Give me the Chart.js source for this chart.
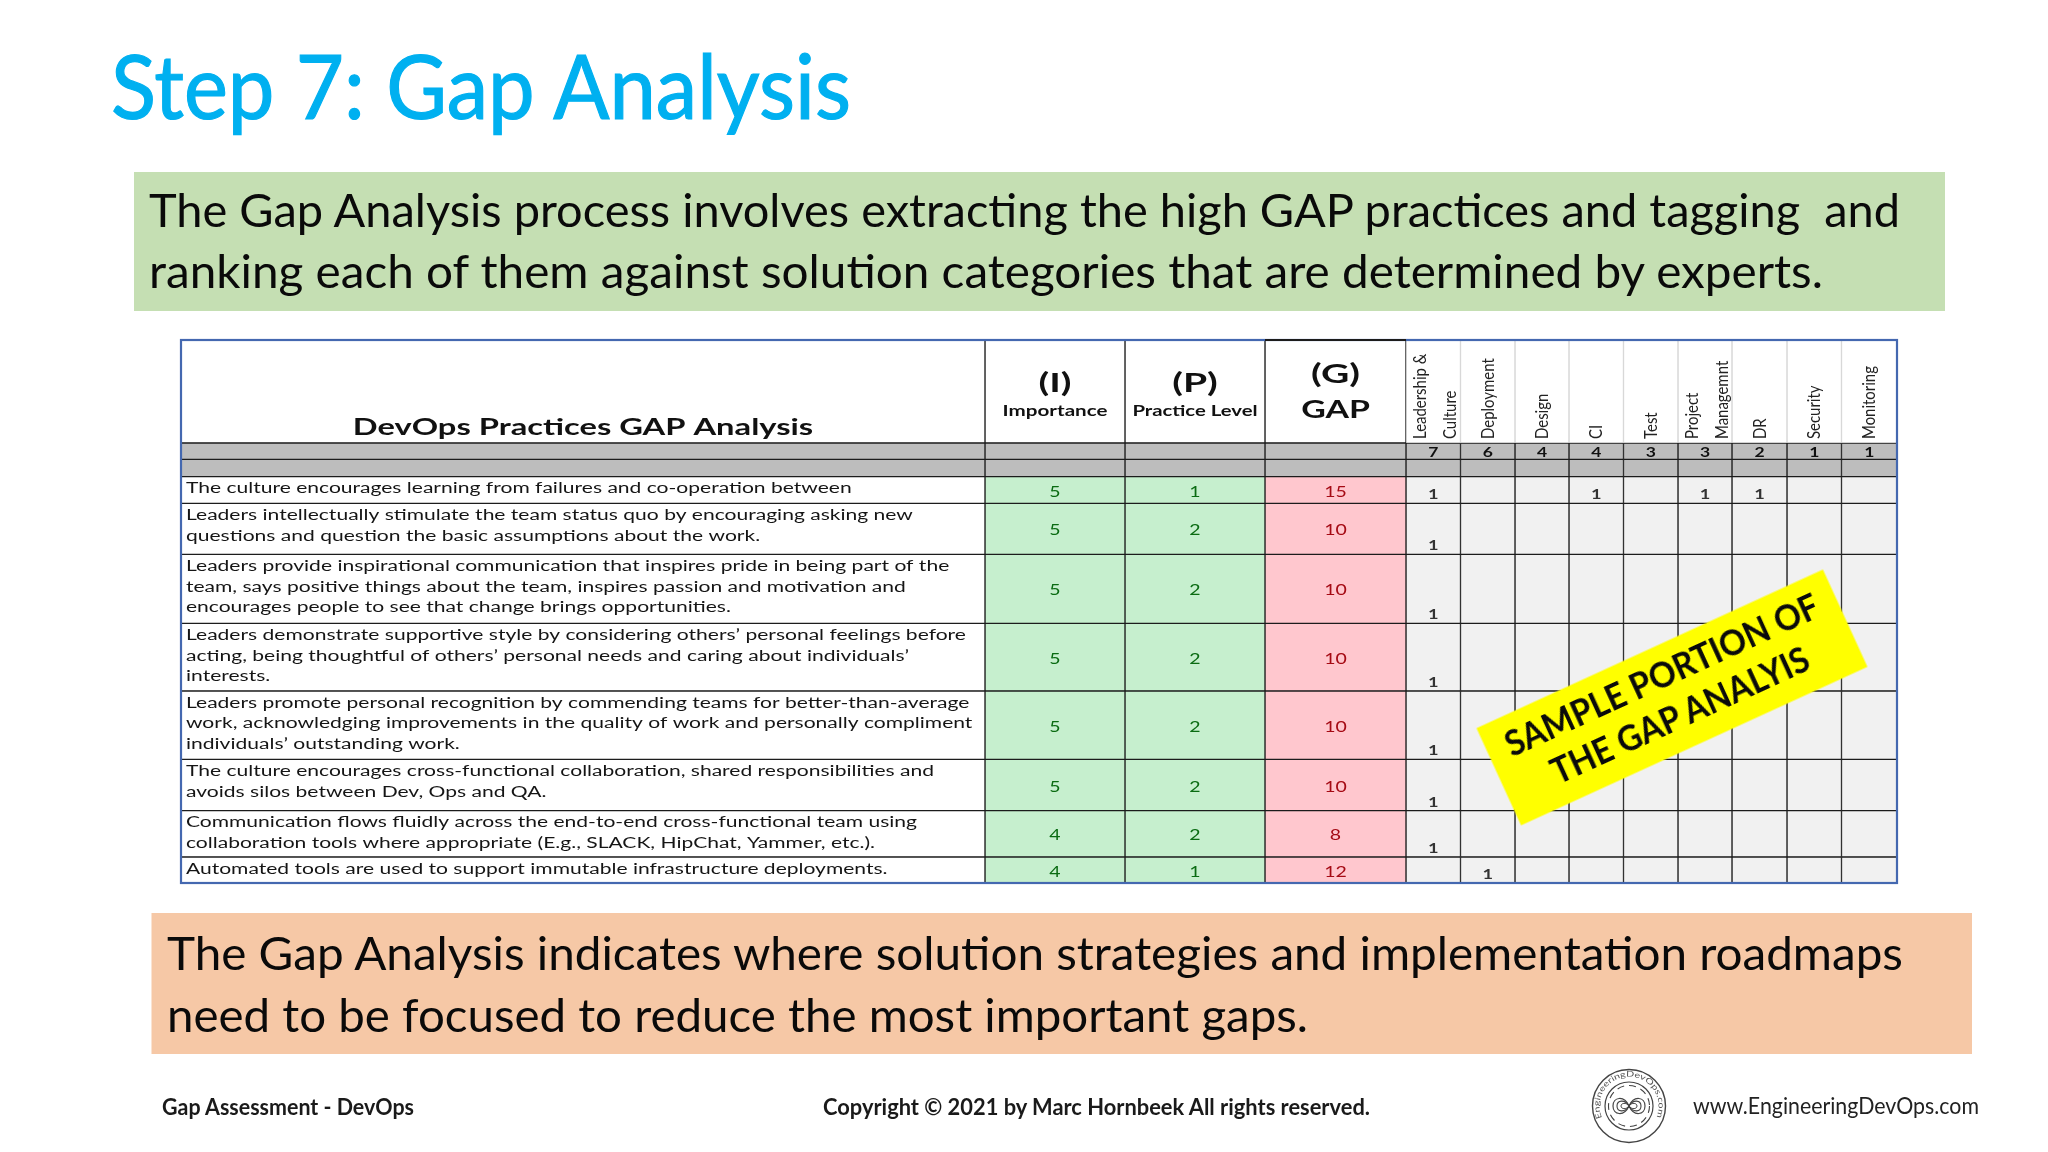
<!DOCTYPE html>
<html>
<head>
<meta charset="utf-8">
<title>Step 7: Gap Analysis</title>
<script src="https://cdn.jsdelivr.net/npm/chart.js@4/dist/chart.umd.min.js"></script>
<style>
    html, body { margin: 0; padding: 0; background: #fff; overflow: hidden; }
    #slide { position: relative; width: 2048px; height: 1152px; }
    #gap_table { position: absolute; left: 176px; top: 335px; }
    #overlay { position: absolute; left: 0; top: 0; font-family: Lato, sans-serif; }
</style>
</head>
<body>
<div id="slide">
    <canvas id="gap_table" width="1726" height="553"></canvas>

    <svg id="overlay" width="2048" height="1152" xmlns="http://www.w3.org/2000/svg">
        <text x="111" y="119" font-size="89" fill="#00B0F0" stroke="#00B0F0" stroke-width="1.2" textLength="740" lengthAdjust="spacingAndGlyphs">Step 7: Gap Analysis</text>

        <rect x="134" y="172" width="1811" height="139" fill="#C5DFB3"/>
        <text x="149" y="227" font-size="46" fill="#0a0a0a" xml:space="preserve" textLength="1751" lengthAdjust="spacingAndGlyphs">The Gap Analysis process involves extracting the high GAP practices and tagging  and</text>
        <text x="149" y="288" font-size="46" fill="#0a0a0a" textLength="1674" lengthAdjust="spacingAndGlyphs">ranking each of them against solution categories that are determined by experts.</text>

        <rect x="151.5" y="913" width="1820.5" height="141" fill="#F6C8A6"/>
        <text x="167" y="970" font-size="46" fill="#0a0a0a" textLength="1736" lengthAdjust="spacingAndGlyphs">The Gap Analysis indicates where solution strategies and implementation roadmaps</text>
        <text x="167" y="1032" font-size="46" fill="#0a0a0a" textLength="1141" lengthAdjust="spacingAndGlyphs">need to be focused to reduce the most important gaps.</text>

        <g transform="translate(1672,697.5) rotate(-24.6)">
            <rect x="-190.5" y="-53.5" width="381" height="107" fill="#FFFF00"/>
            <text x="0" y="-12" font-size="36" font-weight="700" fill="#0a0a0a" text-anchor="middle" textLength="341" lengthAdjust="spacingAndGlyphs">SAMPLE PORTION OF</text>
            <text x="0" y="32" font-size="36" font-weight="700" fill="#0a0a0a" text-anchor="middle" textLength="280" lengthAdjust="spacingAndGlyphs">THE GAP ANALYIS</text>
        </g>

        <text x="162" y="1115" font-size="22" font-weight="700" fill="#1a1a1a" textLength="252" lengthAdjust="spacingAndGlyphs">Gap Assessment - DevOps</text>
        <text x="823" y="1115" font-size="22" font-weight="700" fill="#1a1a1a" textLength="547" lengthAdjust="spacingAndGlyphs">Copyright © 2021 by Marc Hornbeek All rights reserved.</text>
        <text x="1693" y="1114" font-size="23" fill="#222" textLength="286" lengthAdjust="spacingAndGlyphs">www.EngineeringDevOps.com</text>

        <!-- logo -->
        <g transform="translate(1629,1106)" fill="none" stroke="#444">
            <circle r="36.5" stroke-width="1.4"/>
            <circle r="24" stroke-width="1.2"/>
            <circle r="20.5" stroke-width="1.1" stroke-dasharray="7 5"/>
            <path d="M0,0 C5,-11 16,-9 16,0 C16,9 5,11 0,0 C-5,-11 -16,-9 -16,0 C-16,9 -5,11 0,0 Z" stroke-width="1.2"/>
            <path d="M0,0 C4,-7 12,-6 12,0 C12,6 4,7 0,0 C-4,-7 -12,-6 -12,0 C-12,6 -4,7 0,0 Z" stroke-width="1.1"/>
            <path d="M0,0 C3,-4 8,-3 8,0 C8,3 3,4 0,0 C-3,-4 -8,-3 -8,0 C-8,3 -3,4 0,0 Z" stroke-width="1"/>
            <path id="logo_arc" d="M-27,12 A29.5,29.5 0 1 1 27,12" stroke="none"/>
            <text font-size="8" fill="#555" stroke="none"><textPath href="#logo_arc" textLength="116" lengthAdjust="spacingAndGlyphs">EngineeringDevOps.com</textPath></text>
        </g>
    </svg>
</div>

<script>
// Table content
const practices = [
    'The culture encourages learning from failures and co-operation between',
    'Leaders intellectually stimulate the team status quo by encouraging asking new\nquestions and question the basic assumptions about the work.',
    'Leaders provide inspirational communication that inspires pride in being part of the\nteam, says positive things about the team, inspires passion and motivation and\nencourages people to see that change brings opportunities.',
    'Leaders demonstrate supportive style by considering others\u2019 personal feelings before\nacting, being thoughtful of others\u2019 personal needs and caring about individuals\u2019\ninterests.',
    'Leaders promote personal recognition by commending teams for better-than-average\nwork, acknowledging improvements in the quality of work and personally compliment\nindividuals\u2019 outstanding work.',
    'The culture encourages cross-functional collaboration, shared responsibilities and\navoids silos between Dev, Ops and QA.',
    'Communication flows fluidly across the end-to-end cross-functional team using\ncollaboration tools where appropriate (E.g., SLACK, HipChat, Yammer, etc.).',
    'Automated tools are used to support immutable infrastructure deployments.'
];
const importance = [5, 5, 5, 5, 5, 5, 4, 4];
const practice_level = [1, 2, 2, 2, 2, 2, 2, 1];
const gap = [15, 10, 10, 10, 10, 10, 8, 12];

const solution_names = ['Leadership &\nCulture', 'Deployment', 'Design', 'CI', 'Test', 'Project\nManagemnt', 'DR', 'Security', 'Monitoring'];
const solution_totals = [7, 6, 4, 4, 3, 3, 2, 1, 1];
const leadership_hits = [1, 1, 1, 1, 1, 1, 1, null];
const deployment_hits = [null, null, null, null, null, null, null, 1];
const design_hits = [null, null, null, null, null, null, null, null];
const ci_hits = [1, null, null, null, null, null, null, null];
const test_hits = [null, null, null, null, null, null, null, null];
const project_hits = [1, null, null, null, null, null, null, null];
const dr_hits = [1, null, null, null, null, null, null, null];
const security_hits = [null, null, null, null, null, null, null, null];
const monitoring_hits = [null, null, null, null, null, null, null, null];
const solution_hits = [leadership_hits, deployment_hits, design_hits, ci_hits, test_hits, project_hits, dr_hits, security_hits, monitoring_hits];

// Layout of the grid, in page pixels
const column_edges = [181, 985, 1125, 1265, 1406, 1460.5, 1515, 1569, 1623.5, 1678, 1732, 1787, 1841.5, 1897];
const row_edges = [340, 443, 459.3, 476.7, 503.3, 554.3, 623.3, 691, 759.3, 810.7, 857, 883];

const colors = {
    line: '#1c1c1c',
    header_line: '#d4d4d4',
    band: '#BDBDBD',
    white: '#ffffff',
    green: '#C6EFCE',
    green_text: '#0A6B12',
    pink: '#FFC7CE',
    pink_text: '#A50A14',
    solution: '#F1F1F1',
    frame: '#4468B0'
};

const TEXT_FONT = 'Lato, sans-serif';
const BODY_STRETCH = 1.357;

/**
 * One floating bar per row, so the whole column comes from the chart's scales
 */
function build_column(col, body_color, header_line) {
    const left = column_edges[col];
    const right = column_edges[col + 1];
    const points = [];
    const fills = [];
    const lines = [];
    for (let r = 0; r < row_edges.length - 1; r++) {
        points.push({ x: (left + right) / 2, y: [row_edges[r], row_edges[r + 1]] });
        fills.push(r === 0 ? colors.white : r < 3 ? colors.band : body_color);
        lines.push(r === 0 ? header_line : colors.line);
    }
    return {
        data: points,
        backgroundColor: fills,
        borderColor: lines,
        borderWidth: 1,
        borderSkipped: false,
        barThickness: right - left,
        grouped: false
    };
}

function draw_text(ctx, text, x, y, font, color, align, stretch) {
    ctx.save();
    ctx.font = font;
    ctx.fillStyle = color;
    ctx.textAlign = align || 'left';
    ctx.textBaseline = 'alphabetic';
    ctx.translate(x, y);
    ctx.scale(stretch || 1, 1);
    ctx.fillText(text, 0, 0);
    ctx.restore();
}

/**
 * Writes the cell contents, placed from the bar elements
 */
const cell_text_plugin = {
    id: 'cell_text',
    afterDatasetsDraw(chart) {
        const ctx = chart.ctx;
        const y_at = value => chart.scales.y.getPixelForValue(value);
        const cell = (col, row) => chart.getDatasetMeta(col).data[row];
        const middle = el => (el.y + el.base) / 2;
        const bottom = el => Math.max(el.y, el.base);
        const header_font = size => `700 ${size}px ${TEXT_FONT}`;

        // header of the three score columns
        draw_text(ctx, 'DevOps Practices GAP Analysis', cell(0, 0).x, y_at(435), header_font(22), '#111', 'center', 1.485);
        const score_x = [cell(1, 0).x, cell(2, 0).x, cell(3, 0).x];
        draw_text(ctx, '(I)', score_x[0], y_at(392), header_font(26), '#111', 'center', 1.5);
        draw_text(ctx, 'Importance', score_x[0], y_at(416), header_font(14.5), '#111', 'center', 1.42);
        draw_text(ctx, '(P)', score_x[1], y_at(392), header_font(26), '#111', 'center', 1.5);
        draw_text(ctx, 'Practice Level', score_x[1], y_at(416), header_font(14.5), '#111', 'center', 1.4);
        draw_text(ctx, '(G)', score_x[2], y_at(383), header_font(26), '#111', 'center', 1.5);
        draw_text(ctx, 'GAP', score_x[2], y_at(418), header_font(24), '#111', 'center', 1.41);

        // rotated solution names and their totals
        solution_names.forEach((name, i) => {
            const head = cell(4 + i, 0);
            const lines = name.split('\n');
            lines.forEach((line, k) => {
                const offset = lines.length === 1 ? 6 : (k === 0 ? -7 : 23);
                ctx.save();
                ctx.translate(head.x + offset, bottom(head) - 4);
                ctx.rotate(-Math.PI / 2);
                draw_text(ctx, line, 0, 0, `400 18px ${TEXT_FONT}`, '#222', 'left', 0.83);
                ctx.restore();
            });
            const band = cell(4 + i, 1);
            draw_text(ctx, String(solution_totals[i]), band.x, bottom(band) - 2.5, header_font(14), '#111', 'center', 1.25);
        });

        // body rows
        practices.forEach((text, r) => {
            const row = r + 3;
            const first = cell(0, row);
            const top = Math.min(first.y, first.base);
            text.split('\n').forEach((line, k) => {
                draw_text(ctx, line, first.x - first.width / 2 + 5, top + 16.6 + k * 20.7, `400 15.5px ${TEXT_FONT}`, '#151515', 'left', BODY_STRETCH);
            });
            const score_font = `400 15px ${TEXT_FONT}`;
            draw_text(ctx, String(importance[r]), cell(1, row).x, middle(cell(1, row)) + 6.5, score_font, colors.green_text, 'center', 1.3);
            draw_text(ctx, String(practice_level[r]), cell(2, row).x, middle(cell(2, row)) + 6.5, score_font, colors.green_text, 'center', 1.3);
            draw_text(ctx, String(gap[r]), cell(3, row).x, middle(cell(3, row)) + 6.5, score_font, colors.pink_text, 'center', 1.3);
            solution_hits.forEach((hits, i) => {
                if (hits[r] === null) return;
                const el = cell(4 + i, row);
                draw_text(ctx, String(hits[r]), el.x, bottom(el) - 4, header_font(14), '#333', 'center', 1.3);
            });
        });

        // frame around the table
        const area = chart.chartArea;
        ctx.save();
        ctx.strokeStyle = colors.frame;
        ctx.lineWidth = 2.2;
        ctx.strokeRect(area.left, area.top, area.right - area.left, area.bottom - area.top);
        ctx.strokeStyle = colors.line;
        ctx.lineWidth = 2;
        const gap_head = cell(3, 0);
        ctx.beginPath();
        ctx.moveTo(gap_head.x - gap_head.width / 2, area.top);
        ctx.lineTo(gap_head.x + gap_head.width / 2, area.top);
        ctx.stroke();
        ctx.restore();
    }
};

const gap_datasets = [
    build_column(0, colors.white, colors.line),
    build_column(1, colors.green, colors.line),
    build_column(2, colors.green, colors.line),
    build_column(3, colors.pink, colors.line)
];
solution_names.forEach((name, i) => {
    gap_datasets.push(build_column(4 + i, colors.solution, colors.header_line));
});

new Chart(document.getElementById('gap_table').getContext('2d'), {
    type: 'bar',
    data: { datasets: gap_datasets },
    options: {
        responsive: false,
        animation: false,
        devicePixelRatio: 1,
        layout: { padding: 5 },
        plugins: { legend: { display: false }, title: { display: false }, tooltip: { enabled: false } },
        scales: {
            x: { type: 'linear', display: false, offset: false, min: column_edges[0], max: column_edges[column_edges.length - 1] },
            y: { type: 'linear', display: false, reverse: true, min: row_edges[0], max: row_edges[row_edges.length - 1] }
        }
    },
    plugins: [cell_text_plugin]
});
</script>
</body>
</html>
